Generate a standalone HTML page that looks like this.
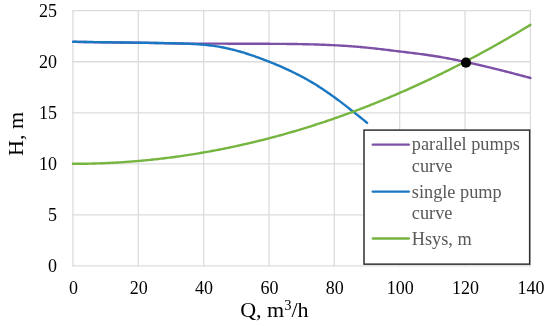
<!DOCTYPE html>
<html><head><meta charset="utf-8"><style>
html,body{margin:0;padding:0;background:#fff;}
svg{display:block;}
text{font-family:"Liberation Serif","Times New Roman",serif;}
</style></head><body>
<svg width="550" height="326" viewBox="0 0 550 326">
<rect width="550" height="326" fill="#fff"/>
<g stroke="#dcdcdc" stroke-width="1.3" stroke-linecap="square">
<line x1="72.94" y1="10.70" x2="72.94" y2="265.90"/>
<line x1="138.29" y1="10.70" x2="138.29" y2="265.90"/>
<line x1="203.64" y1="10.70" x2="203.64" y2="265.90"/>
<line x1="268.99" y1="10.70" x2="268.99" y2="265.90"/>
<line x1="334.34" y1="10.70" x2="334.34" y2="265.90"/>
<line x1="399.69" y1="10.70" x2="399.69" y2="265.90"/>
<line x1="465.04" y1="10.70" x2="465.04" y2="265.90"/>
<line x1="530.39" y1="10.70" x2="530.39" y2="265.90"/>
<line x1="72.94" y1="265.90" x2="530.39" y2="265.90"/>
<line x1="72.94" y1="214.86" x2="530.39" y2="214.86"/>
<line x1="72.94" y1="163.82" x2="530.39" y2="163.82"/>
<line x1="72.94" y1="112.78" x2="530.39" y2="112.78"/>
<line x1="72.94" y1="61.74" x2="530.39" y2="61.74"/>
<line x1="72.94" y1="10.70" x2="530.39" y2="10.70"/>
</g>
<g fill="none" stroke-width="2.4" stroke-linejoin="round" stroke-linecap="round">
<polyline stroke="#7c51a6" points="73.10,41.84 74.73,41.87 76.37,41.90 78.00,41.93 79.63,41.96 81.27,41.98 82.90,42.01 84.53,42.04 86.17,42.06 87.80,42.09 89.43,42.11 91.07,42.14 92.70,42.16 94.33,42.19 95.96,42.21 97.60,42.23 99.23,42.25 100.86,42.28 102.50,42.30 104.13,42.32 105.76,42.34 107.40,42.37 109.03,42.39 110.66,42.41 112.30,42.43 113.93,42.45 115.56,42.47 117.20,42.49 118.83,42.51 120.46,42.54 122.10,42.56 123.73,42.58 125.36,42.60 127.00,42.62 128.63,42.64 130.26,42.67 131.90,42.69 133.53,42.71 135.16,42.73 136.80,42.76 138.43,42.78 140.06,42.80 141.69,42.83 143.33,42.85 144.96,42.87 146.59,42.90 148.23,42.92 149.86,42.95 151.49,42.98 153.13,43.00 154.76,43.03 156.39,43.06 158.03,43.09 159.66,43.12 161.29,43.14 162.93,43.17 164.56,43.21 166.19,43.24 167.83,43.27 169.46,43.30 171.09,43.34 172.73,43.37 174.36,43.40 175.99,43.43 177.63,43.46 179.26,43.49 180.89,43.52 182.53,43.55 184.16,43.58 185.79,43.61 187.42,43.64 189.06,43.66 190.69,43.69 192.32,43.71 193.96,43.73 195.59,43.74 197.22,43.75 198.86,43.75 200.49,43.75 202.12,43.74 203.76,43.73 205.39,43.71 207.02,43.69 208.66,43.66 210.29,43.64 211.92,43.61 213.56,43.59 215.19,43.58 216.82,43.59 218.46,43.61 220.09,43.62 221.72,43.63 223.36,43.65 224.99,43.66 226.62,43.67 228.26,43.68 229.89,43.70 231.52,43.71 233.15,43.72 234.79,43.72 236.42,43.73 238.05,43.74 239.69,43.75 241.32,43.75 242.95,43.76 244.59,43.76 246.22,43.77 247.85,43.77 249.49,43.77 251.12,43.78 252.75,43.78 254.39,43.78 256.02,43.79 257.65,43.79 259.29,43.79 260.92,43.80 262.55,43.80 264.19,43.81 265.82,43.81 267.45,43.82 269.09,43.82 270.72,43.83 272.35,43.83 273.99,43.84 275.62,43.85 277.25,43.86 278.88,43.87 280.52,43.88 282.15,43.89 283.78,43.90 285.42,43.92 287.05,43.93 288.68,43.95 290.32,43.97 291.95,43.99 293.58,44.01 295.22,44.03 296.85,44.06 298.48,44.09 300.12,44.11 301.75,44.14 303.38,44.18 305.02,44.21 306.65,44.25 308.28,44.29 309.92,44.33 311.55,44.37 313.18,44.41 314.82,44.46 316.45,44.51 318.08,44.56 319.72,44.62 321.35,44.68 322.98,44.74 324.62,44.80 326.25,44.87 327.88,44.94 329.51,45.01 331.15,45.09 332.78,45.17 334.41,45.25 336.05,45.33 337.68,45.42 339.31,45.51 340.95,45.61 342.58,45.71 344.21,45.81 345.85,45.92 347.48,46.03 349.11,46.14 350.75,46.26 352.38,46.38 354.01,46.51 355.65,46.64 357.28,46.77 358.91,46.91 360.55,47.05 362.18,47.20 363.81,47.35 365.45,47.50 367.08,47.66 368.71,47.82 370.34,47.99 371.98,48.16 373.61,48.34 375.24,48.52 376.88,48.70 378.51,48.89 380.14,49.08 381.78,49.27 383.41,49.47 385.04,49.66 386.68,49.86 388.31,50.06 389.94,50.26 391.58,50.46 393.21,50.66 394.84,50.86 396.48,51.07 398.11,51.27 399.74,51.46 401.38,51.66 403.01,51.86 404.64,52.06 406.28,52.25 407.91,52.45 409.54,52.65 411.18,52.84 412.81,53.04 414.44,53.25 416.07,53.45 417.71,53.66 419.34,53.87 420.97,54.08 422.61,54.30 424.24,54.52 425.87,54.74 427.51,54.97 429.14,55.21 430.77,55.45 432.41,55.70 434.04,55.96 435.67,56.22 437.31,56.48 438.94,56.76 440.57,57.04 442.21,57.32 443.84,57.62 445.47,57.91 447.11,58.21 448.74,58.52 450.37,58.83 452.01,59.15 453.64,59.47 455.27,59.80 456.91,60.13 458.54,60.46 460.17,60.80 461.80,61.15 463.44,61.49 465.07,61.84 466.70,62.19 468.34,62.55 469.97,62.91 471.60,63.27 473.24,63.64 474.87,64.00 476.50,64.37 478.14,64.75 479.77,65.13 481.40,65.51 483.04,65.89 484.67,66.27 486.30,66.66 487.94,67.05 489.57,67.45 491.20,67.84 492.84,68.24 494.47,68.64 496.10,69.05 497.74,69.45 499.37,69.86 501.00,70.27 502.64,70.68 504.27,71.10 505.90,71.51 507.53,71.93 509.17,72.35 510.80,72.77 512.43,73.20 514.07,73.62 515.70,74.05 517.33,74.48 518.97,74.91 520.60,75.35 522.23,75.78 523.87,76.22 525.50,76.65 527.13,77.09 528.77,77.53 530.40,77.98"/>
<polyline stroke="#1a77c1" points="73.10,41.74 74.73,41.77 76.37,41.80 78.00,41.83 79.63,41.85 81.27,41.88 82.90,41.91 84.53,41.93 86.17,41.96 87.80,41.99 89.43,42.01 91.07,42.04 92.70,42.06 94.33,42.08 95.96,42.11 97.60,42.13 99.23,42.15 100.86,42.18 102.50,42.20 104.13,42.22 105.76,42.24 107.40,42.26 109.03,42.28 110.66,42.31 112.30,42.33 113.93,42.35 115.56,42.37 117.20,42.39 118.83,42.41 120.46,42.43 122.10,42.46 123.73,42.48 125.36,42.50 127.00,42.52 128.63,42.54 130.26,42.56 131.90,42.59 133.53,42.61 135.16,42.63 136.80,42.65 138.43,42.68 140.06,42.70 141.69,42.72 143.33,42.75 144.96,42.77 146.59,42.80 148.23,42.82 149.86,42.85 151.49,42.87 153.13,42.90 154.76,42.93 156.39,42.96 158.03,42.98 159.66,43.01 161.29,43.04 162.93,43.07 164.56,43.10 166.19,43.13 167.83,43.17 169.46,43.20 171.09,43.23 172.73,43.27 174.36,43.30 175.99,43.34 177.63,43.38 179.26,43.42 180.89,43.47 182.53,43.52 184.16,43.58 185.79,43.63 187.42,43.70 189.06,43.77 190.69,43.85 192.32,43.93 193.96,44.02 195.59,44.12 197.22,44.23 198.86,44.35 200.49,44.48 202.12,44.61 203.76,44.76 205.39,44.92 207.02,45.09 208.66,45.27 210.29,45.47 211.92,45.68 213.56,45.90 215.19,46.14 216.82,46.39 218.46,46.65 220.09,46.94 221.72,47.24 223.36,47.55 224.99,47.88 226.62,48.23 228.26,48.59 229.89,48.96 231.52,49.35 233.15,49.76 234.79,50.18 236.42,50.61 238.05,51.06 239.69,51.52 241.32,51.99 242.95,52.47 244.59,52.97 246.22,53.48 247.85,54.00 249.49,54.53 251.12,55.07 252.75,55.62 254.39,56.19 256.02,56.76 257.65,57.34 259.29,57.94 260.92,58.54 262.55,59.15 264.19,59.77 265.82,60.40 267.45,61.04 269.09,61.68 270.72,62.33 272.35,62.99 273.99,63.66 275.62,64.34 277.25,65.03 278.88,65.72 280.52,66.43 282.15,67.14 283.78,67.87 285.42,68.60 287.05,69.35 288.68,70.11 290.32,70.88 291.95,71.66 293.58,72.46 295.22,73.26 296.85,74.08 298.48,74.92 300.12,75.77 301.75,76.63 303.38,77.51 305.02,78.40 306.65,79.31 308.28,80.23 309.92,81.17 311.55,82.13 313.18,83.10 314.82,84.09 316.45,85.10 318.08,86.13 319.72,87.17 321.35,88.23 322.98,89.31 324.62,90.41 326.25,91.52 327.88,92.64 329.51,93.79 331.15,94.94 332.78,96.11 334.41,97.29 336.05,98.49 337.68,99.70 339.31,100.91 340.95,102.14 342.58,103.38 344.21,104.63 345.85,105.89 347.48,107.16 349.11,108.43 350.75,109.71 352.38,111.00 354.01,112.30 355.65,113.60 357.28,114.91 358.91,116.22 360.55,117.53 362.18,118.85 363.81,120.17 365.45,121.50 367.08,122.82"/>
<polyline stroke="#77b541" points="72.94,163.82 74.57,163.82 76.21,163.81 77.84,163.80 79.47,163.79 81.11,163.78 82.74,163.76 84.38,163.73 86.01,163.71 87.64,163.68 89.28,163.64 90.91,163.61 92.54,163.56 94.18,163.52 95.81,163.47 97.45,163.42 99.08,163.37 100.71,163.31 102.35,163.25 103.98,163.18 105.61,163.11 107.25,163.04 108.88,162.96 110.52,162.88 112.15,162.80 113.78,162.71 115.42,162.62 117.05,162.53 118.68,162.43 120.32,162.33 121.95,162.22 123.59,162.12 125.22,162.01 126.85,161.89 128.49,161.77 130.12,161.65 131.75,161.52 133.39,161.39 135.02,161.26 136.66,161.12 138.29,160.98 139.92,160.84 141.56,160.69 143.19,160.54 144.82,160.39 146.46,160.23 148.09,160.07 149.73,159.91 151.36,159.74 152.99,159.56 154.63,159.39 156.26,159.21 157.89,159.03 159.53,158.84 161.16,158.65 162.80,158.46 164.43,158.26 166.06,158.06 167.70,157.86 169.33,157.65 170.96,157.44 172.60,157.23 174.23,157.01 175.87,156.79 177.50,156.56 179.13,156.33 180.77,156.10 182.40,155.86 184.03,155.63 185.67,155.38 187.30,155.14 188.94,154.89 190.57,154.63 192.20,154.38 193.84,154.12 195.47,153.85 197.10,153.58 198.74,153.31 200.37,153.04 202.01,152.76 203.64,152.48 205.27,152.19 206.91,151.90 208.54,151.61 210.17,151.32 211.81,151.02 213.44,150.71 215.08,150.41 216.71,150.10 218.34,149.78 219.98,149.46 221.61,149.14 223.25,148.82 224.88,148.49 226.51,148.16 228.15,147.83 229.78,147.49 231.41,147.15 233.05,146.80 234.68,146.45 236.31,146.10 237.95,145.74 239.58,145.38 241.22,145.02 242.85,144.65 244.48,144.28 246.12,143.91 247.75,143.53 249.38,143.15 251.02,142.76 252.65,142.38 254.29,141.98 255.92,141.59 257.55,141.19 259.19,140.79 260.82,140.38 262.45,139.97 264.09,139.56 265.72,139.14 267.36,138.72 268.99,138.30 270.62,137.87 272.26,137.44 273.89,137.01 275.52,136.57 277.16,136.13 278.79,135.68 280.43,135.24 282.06,134.78 283.69,134.33 285.33,133.87 286.96,133.41 288.59,132.94 290.23,132.47 291.86,132.00 293.50,131.52 295.13,131.04 296.76,130.56 298.40,130.07 300.03,129.58 301.66,129.08 303.30,128.59 304.93,128.08 306.57,127.58 308.20,127.07 309.83,126.56 311.47,126.04 313.10,125.52 314.74,125.00 316.37,124.47 318.00,123.94 319.64,123.41 321.27,122.87 322.90,122.33 324.54,121.79 326.17,121.24 327.80,120.69 329.44,120.14 331.07,119.58 332.71,119.02 334.34,118.45 335.97,117.88 337.61,117.31 339.24,116.73 340.88,116.15 342.51,115.57 344.14,114.98 345.78,114.39 347.41,113.80 349.04,113.20 350.68,112.60 352.31,112.00 353.94,111.39 355.58,110.78 357.21,110.16 358.85,109.55 360.48,108.92 362.11,108.30 363.75,107.67 365.38,107.04 367.01,106.40 368.65,105.76 370.28,105.12 371.92,104.47 373.55,103.82 375.18,103.17 376.82,102.51 378.45,101.85 380.08,101.18 381.72,100.51 383.35,99.84 384.99,99.17 386.62,98.49 388.25,97.81 389.89,97.12 391.52,96.43 393.15,95.74 394.79,95.04 396.42,94.34 398.06,93.64 399.69,92.93 401.32,92.22 402.96,91.51 404.59,90.79 406.22,90.07 407.86,89.34 409.49,88.61 411.13,87.88 412.76,87.15 414.39,86.41 416.03,85.66 417.66,84.92 419.29,84.17 420.93,83.42 422.56,82.66 424.20,81.90 425.83,81.14 427.46,80.37 429.10,79.60 430.73,78.82 432.36,78.04 434.00,77.26 435.63,76.48 437.27,75.69 438.90,74.90 440.53,74.10 442.17,73.30 443.80,72.50 445.44,71.69 447.07,70.88 448.70,70.07 450.34,69.25 451.97,68.43 453.60,67.61 455.24,66.78 456.87,65.95 458.50,65.11 460.14,64.28 461.77,63.43 463.41,62.59 465.04,61.74 466.67,60.89 468.31,60.03 469.94,59.17 471.57,58.31 473.21,57.44 474.84,56.57 476.48,55.70 478.11,54.82 479.74,53.94 481.38,53.06 483.01,52.17 484.64,51.28 486.28,50.38 487.91,49.48 489.55,48.58 491.18,47.68 492.81,46.77 494.45,45.85 496.08,44.94 497.71,44.02 499.35,43.09 500.98,42.17 502.62,41.24 504.25,40.30 505.88,39.37 507.52,38.42 509.15,37.48 510.78,36.53 512.42,35.58 514.05,34.62 515.69,33.67 517.32,32.70 518.95,31.74 520.59,30.77 522.22,29.80 523.86,28.82 525.49,27.84 527.12,26.86 528.76,25.87 530.39,24.88"/>
</g>
<circle cx="465.95" cy="62.7" r="5.1" fill="#000"/>
<g font-size="18" fill="#000">
<text x="56.9" y="271.9" text-anchor="end">0</text>
<text x="56.9" y="220.9" text-anchor="end">5</text>
<text x="56.9" y="169.8" text-anchor="end">10</text>
<text x="56.9" y="118.8" text-anchor="end">15</text>
<text x="56.9" y="67.7" text-anchor="end">20</text>
<text x="56.9" y="16.7" text-anchor="end">25</text>
<text x="73.4" y="293.8" text-anchor="middle">0</text>
<text x="138.8" y="293.8" text-anchor="middle">20</text>
<text x="204.1" y="293.8" text-anchor="middle">40</text>
<text x="269.5" y="293.8" text-anchor="middle">60</text>
<text x="334.8" y="293.8" text-anchor="middle">80</text>
<text x="400.2" y="293.8" text-anchor="middle">100</text>
<text x="465.5" y="293.8" text-anchor="middle">120</text>
<text x="530.9" y="293.8" text-anchor="middle">140</text>
</g>
<text font-size="22" fill="#000" transform="translate(22.8,133.9) rotate(-90)" text-anchor="middle">H, m</text>
<text font-size="22" fill="#000" x="240.2" y="316.8">Q, m<tspan font-size="14.5" dy="-6.6">3</tspan><tspan dy="6.6">/h</tspan></text>
<g>
<rect x="364.0" y="130.1" width="165.66" height="134.05" fill="#fff" stroke="#2f2f2f" stroke-width="1.5"/>
<g stroke-width="2.4" stroke-linecap="round">
<line x1="372.8" y1="144.6" x2="408.8" y2="144.6" stroke="#7c51a6"/>
<line x1="372.8" y1="191.6" x2="408.8" y2="191.6" stroke="#1a77c1"/>
<line x1="372.8" y1="238.5" x2="408.8" y2="238.5" stroke="#77b541"/>
</g>
<g font-size="18.3" fill="#595959">
<text x="411.8" y="150.4">parallel pumps</text>
<text x="411.8" y="171.6">curve</text>
<text x="411.8" y="197.6">single pump</text>
<text x="411.8" y="219.0">curve</text>
<text x="411.8" y="244.5">Hsys, m</text>
</g>
</g>
</svg>
</body></html>
